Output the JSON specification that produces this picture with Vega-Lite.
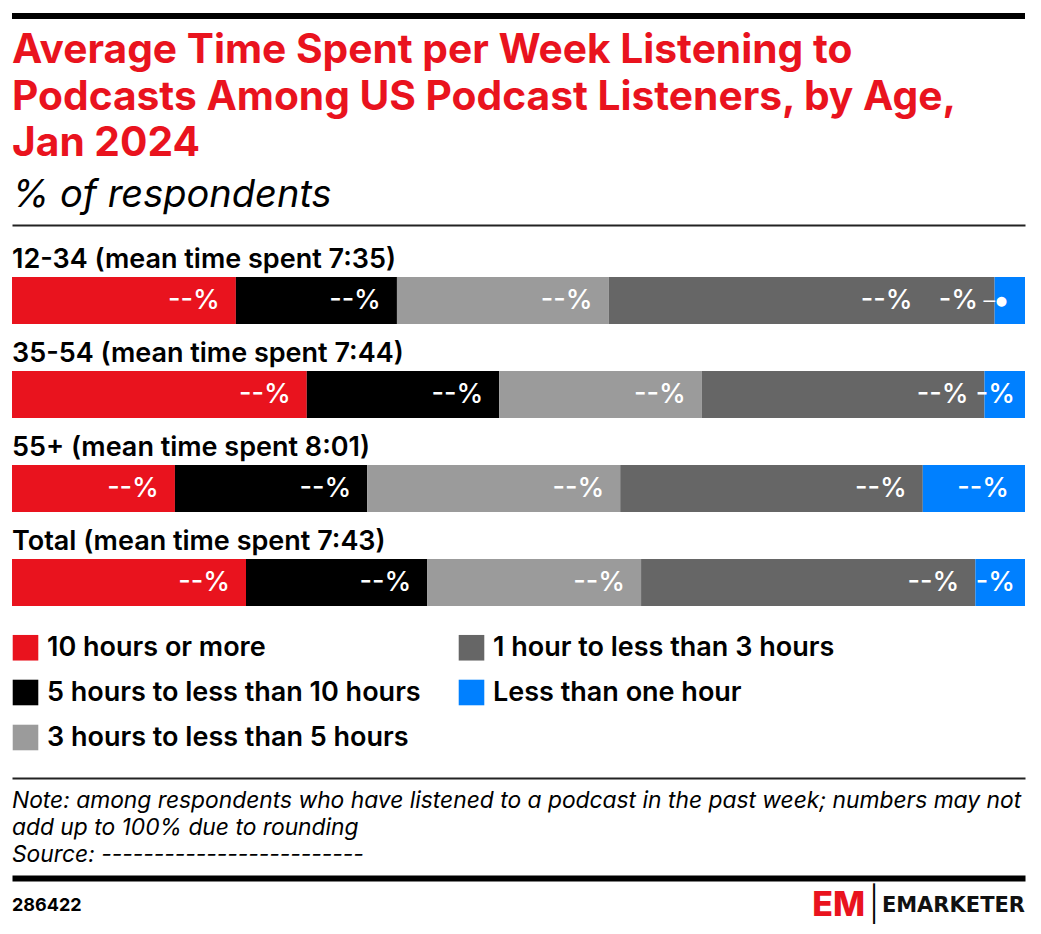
{
  "$schema": "https://vega.github.io/schema/vega-lite/v6.json",
  "background": "#ffffff",
  "padding": {"left": 9, "right": 13, "top": 13, "bottom": 0},
  "spacing": 11,
  "config": {"view": {"stroke": null}, "font": "Inter"},
  "resolve": {"legend": {"color": "independent"}},
  "datasets": {
    "segments": [
      {"age": "12-34", "k": 1, "cat": "10 hours or more", "pct": 22.1, "label": "--%"},
      {"age": "12-34", "k": 2, "cat": "5 hours to less than 10 hours", "pct": 15.9, "label": "--%"},
      {"age": "12-34", "k": 3, "cat": "3 hours to less than 5 hours", "pct": 20.9, "label": "--%"},
      {"age": "12-34", "k": 4, "cat": "1 hour to less than 3 hours", "pct": 38.1, "label": "--%"},
      {"age": "12-34", "k": 5, "cat": "Less than one hour", "pct": 3.0, "label": "-%"},
      {"age": "35-54", "k": 1, "cat": "10 hours or more", "pct": 29.1, "label": "--%"},
      {"age": "35-54", "k": 2, "cat": "5 hours to less than 10 hours", "pct": 19.0, "label": "--%"},
      {"age": "35-54", "k": 3, "cat": "3 hours to less than 5 hours", "pct": 20.0, "label": "--%"},
      {"age": "35-54", "k": 4, "cat": "1 hour to less than 3 hours", "pct": 27.9, "label": "--%"},
      {"age": "35-54", "k": 5, "cat": "Less than one hour", "pct": 4.0, "label": "-%"},
      {"age": "55+", "k": 1, "cat": "10 hours or more", "pct": 16.1, "label": "--%"},
      {"age": "55+", "k": 2, "cat": "5 hours to less than 10 hours", "pct": 19.0, "label": "--%"},
      {"age": "55+", "k": 3, "cat": "3 hours to less than 5 hours", "pct": 25.0, "label": "--%"},
      {"age": "55+", "k": 4, "cat": "1 hour to less than 3 hours", "pct": 29.9, "label": "--%"},
      {"age": "55+", "k": 5, "cat": "Less than one hour", "pct": 10.1, "label": "--%"},
      {"age": "Total", "k": 1, "cat": "10 hours or more", "pct": 23.1, "label": "--%"},
      {"age": "Total", "k": 2, "cat": "5 hours to less than 10 hours", "pct": 17.9, "label": "--%"},
      {"age": "Total", "k": 3, "cat": "3 hours to less than 5 hours", "pct": 21.1, "label": "--%"},
      {"age": "Total", "k": 4, "cat": "1 hour to less than 3 hours", "pct": 33.0, "label": "--%"},
      {"age": "Total", "k": 5, "cat": "Less than one hour", "pct": 4.9, "label": "-%"}
    ],
    "rows": [
      {"age": "12-34", "title": "12-34 (mean time spent 7:35)"},
      {"age": "35-54", "title": "35-54 (mean time spent 7:44)"},
      {"age": "55+", "title": "55+ (mean time spent 8:01)"},
      {"age": "Total", "title": "Total (mean time spent 7:43)"}
    ],
    "frame": [{"line": "top"}],
    "footer": [
      {"slot": "id", "part": "id", "text": "286422"},
      {"slot": "brand", "part": "name", "text": "EMARKETER"},
      {"slot": "brand", "part": "sep", "text": "|"},
      {"slot": "brand", "part": "mark", "text": "EM"}
    ]
  },
  "vconcat": [
    {
      "width": 1013,
      "height": 3,
      "data": {"name": "frame"},
      "mark": {"type": "rule", "color": "#000000", "strokeWidth": 6},
      "encoding": {"y": {"field": "line", "type": "nominal", "scale": {"type": "point", "padding": 0, "align": 0}, "axis": null}}
    },
    {
      "width": 1013,
      "height": 517,
      "title": {
        "text": ["Average Time Spent per Week Listening to", "Podcasts Among US Podcast Listeners, by Age,", "Jan 2024"],
        "subtitle": "% of respondents",
        "anchor": "start",
        "frame": "group",
        "font": "Inter",
        "fontSize": 40.7,
        "fontWeight": 700,
        "lineHeight": 46.5,
        "color": "#e9131e",
        "subtitleFont": "Inter",
        "subtitleFontSize": 38,
        "subtitleFontStyle": "italic",
        "subtitleFontWeight": 400,
        "subtitleColor": "#000000",
        "subtitlePadding": 12,
        "offset": 9
      },
      "encoding": {
        "y": {
          "field": "age",
          "type": "nominal",
          "scale": {"domain": ["12-34", "35-54", "55+", "Total"], "paddingInner": 0.5, "paddingOuter": 1, "align": 0.2766},
          "axis": null
        }
      },
      "layer": [
        {
          "data": {"name": "segments"},
          "transform": [
            {"stack": "pct", "groupby": ["age"], "sort": [{"field": "k", "order": "ascending"}], "offset": "normalize", "as": ["p0", "p1"]}
          ],
          "mark": {"type": "bar"},
          "encoding": {
            "x": {
              "field": "p0",
              "type": "quantitative",
              "scale": {"domain": [0, 1]},
              "axis": {"orient": "top", "domain": true, "domainColor": "#222222", "domainWidth": 2, "labels": false, "ticks": false, "grid": false, "title": null}
            },
            "x2": {"field": "p1"},
            "color": {
              "field": "cat",
              "type": "nominal",
              "scale": {
                "domain": ["10 hours or more", "5 hours to less than 10 hours", "3 hours to less than 5 hours", "1 hour to less than 3 hours", "Less than one hour"],
                "range": ["#e9131e", "#000000", "#9b9b9b", "#666666", "#0080ff"]
              },
              "legend": {
                "orient": "none",
                "legendX": 0,
                "legendY": 409,
                "columns": 2,
                "direction": "vertical",
                "title": null,
                "symbolType": "square",
                "symbolSize": 655,
                "symbolStrokeWidth": 0,
                "symbolOpacity": 1,
                "labelFont": "Inter",
                "labelFontSize": 27,
                "labelFontWeight": 600,
                "labelColor": "#000000",
                "labelOffset": 8,
                "labelLimit": 600,
                "rowPadding": 17,
                "columnPadding": 37
              }
            }
          }
        },
        {
          "data": {"name": "segments"},
          "transform": [
            {"stack": "pct", "groupby": ["age"], "sort": [{"field": "k", "order": "ascending"}], "offset": "normalize", "as": ["p0", "p1"]},
            {"window": [{"op": "lead", "field": "pct", "as": "next"}], "groupby": ["age"], "sort": [{"field": "k", "order": "ascending"}]},
            {"filter": "datum.pct >= 8 && !(datum.next != null && datum.next < 3.5)"}
          ],
          "mark": {"type": "text", "align": "right", "baseline": "middle", "dx": -16, "color": "#ffffff", "font": "Inter", "fontSize": 27, "fontWeight": 500},
          "encoding": {
            "x": {
              "field": "p1",
              "type": "quantitative",
              "axis": {"orient": "bottom", "offset": 36, "domain": true, "domainColor": "#222222", "domainWidth": 2, "labels": false, "ticks": false, "grid": false, "title": null}
            },
            "text": {"field": "label"}
          }
        },
        {
          "data": {"name": "segments"},
          "transform": [
            {"stack": "pct", "groupby": ["age"], "sort": [{"field": "k", "order": "ascending"}], "offset": "normalize", "as": ["p0", "p1"]},
            {"window": [{"op": "lead", "field": "pct", "as": "next"}], "groupby": ["age"], "sort": [{"field": "k", "order": "ascending"}]},
            {"filter": "datum.pct >= 8 && datum.next != null && datum.next < 3.5"}
          ],
          "mark": {"type": "text", "align": "right", "baseline": "middle", "dx": -82, "color": "#ffffff", "font": "Inter", "fontSize": 27, "fontWeight": 500},
          "encoding": {
            "x": {"field": "p1", "type": "quantitative", "axis": null},
            "text": {"field": "label"}
          }
        },
        {
          "data": {"name": "segments"},
          "transform": [
            {"stack": "pct", "groupby": ["age"], "sort": [{"field": "k", "order": "ascending"}], "offset": "normalize", "as": ["p0", "p1"]},
            {"filter": "datum.pct >= 3.5 && datum.pct < 8"}
          ],
          "mark": {"type": "text", "align": "right", "baseline": "middle", "dx": -10, "color": "#ffffff", "font": "Inter", "fontSize": 27, "fontWeight": 500},
          "encoding": {
            "x": {"field": "p1", "type": "quantitative", "axis": null},
            "text": {"field": "label"}
          }
        },
        {
          "data": {"name": "segments"},
          "transform": [
            {"stack": "pct", "groupby": ["age"], "sort": [{"field": "k", "order": "ascending"}], "offset": "normalize", "as": ["p0", "p1"]},
            {"filter": "datum.pct < 3.5"}
          ],
          "mark": {"type": "text", "align": "right", "baseline": "middle", "dx": -47, "color": "#ffffff", "font": "Inter", "fontSize": 27, "fontWeight": 500},
          "encoding": {
            "x": {"field": "p1", "type": "quantitative", "axis": null},
            "text": {"field": "label"}
          }
        },
        {
          "data": {"name": "segments"},
          "transform": [
            {"stack": "pct", "groupby": ["age"], "sort": [{"field": "k", "order": "ascending"}], "offset": "normalize", "as": ["p0", "p1"]},
            {"filter": "datum.pct < 3.5"}
          ],
          "mark": {"type": "text", "align": "right", "baseline": "middle", "dx": -18, "color": "#ffffff", "font": "DejaVu Sans", "fontSize": 13, "fontWeight": 700},
          "encoding": {
            "x": {"field": "p1", "type": "quantitative", "axis": null},
            "text": {"value": "—●"}
          }
        },
        {
          "data": {"name": "rows"},
          "mark": {"type": "text", "align": "left", "baseline": "alphabetic", "dy": -33, "color": "#000000", "font": "Inter", "fontSize": 27, "fontWeight": 600},
          "encoding": {
            "x": {"datum": 0, "type": "quantitative", "axis": null},
            "text": {"field": "title"}
          }
        }
      ],
      "resolve": {"axis": {"x": "independent"}}
    },
    {
      "width": 1013,
      "height": 56,
      "title": {
        "text": ["Note: among respondents who have listened to a podcast in the past week; numbers may not", "add up to 100% due to rounding", "Source: -------------------------"],
        "anchor": "start",
        "frame": "group",
        "font": "Inter",
        "fontSize": 22.8,
        "fontStyle": "italic",
        "fontWeight": 400,
        "color": "#000000",
        "lineHeight": 27,
        "offset": 11.5
      },
      "data": {"name": "footer"},
      "encoding": {
        "x": {
          "field": "slot",
          "type": "nominal",
          "scale": {"type": "point", "domain": ["id", "brand"], "padding": 0},
          "axis": {"orient": "top", "domain": true, "domainColor": "#000000", "domainWidth": 6, "labels": false, "ticks": false, "grid": false, "title": null}
        }
      },
      "layer": [
        {
          "transform": [{"filter": "datum.part == 'id'"}],
          "mark": {"type": "text", "align": "left", "baseline": "middle", "font": "Inter", "fontSize": 18, "fontWeight": 700, "color": "#000000"},
          "encoding": {"text": {"field": "text"}}
        },
        {
          "transform": [{"filter": "datum.part == 'name'"}],
          "mark": {"type": "text", "align": "right", "baseline": "middle", "font": "DejaVu Sans", "fontSize": 21, "fontWeight": 700, "color": "#111111"},
          "encoding": {"text": {"field": "text"}}
        },
        {
          "transform": [{"filter": "datum.part == 'sep'"}],
          "mark": {"type": "text", "align": "center", "baseline": "middle", "dx": -151, "font": "Inter", "fontSize": 34, "fontWeight": 300, "color": "#000000"},
          "encoding": {"text": {"field": "text"}}
        },
        {
          "transform": [{"filter": "datum.part == 'mark'"}],
          "mark": {"type": "text", "align": "right", "baseline": "middle", "dx": -160, "font": "Inter", "fontSize": 34, "fontWeight": 800, "color": "#e9131e"},
          "encoding": {"text": {"field": "text"}}
        }
      ]
    }
  ]
}
